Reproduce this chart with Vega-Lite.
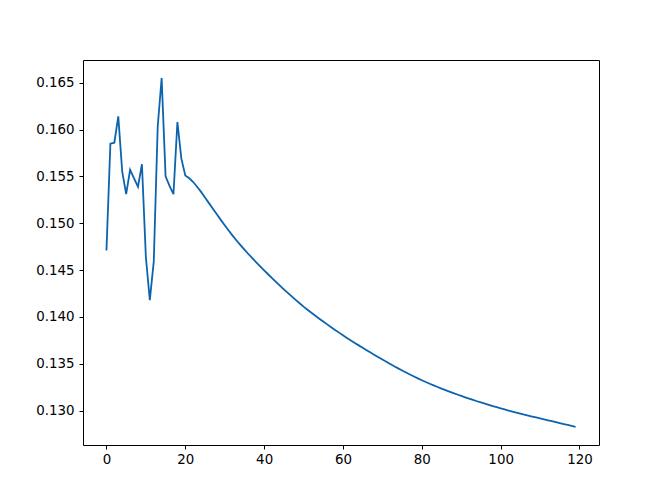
{
  "$schema": "https://vega.github.io/schema/vega-lite/v6.json",
  "width": 516,
  "height": 385,
  "autosize": "none",
  "padding": {"left": 83, "top": 60, "right": 67, "bottom": 55},
  "background": "white",
  "data": {
    "values": [
      {"step": 0, "value": 0.1471}, {"step": 1, "value": 0.1585}, {"step": 2, "value": 0.1586},
      {"step": 3, "value": 0.1614}, {"step": 4, "value": 0.1555}, {"step": 5, "value": 0.1531},
      {"step": 6, "value": 0.1557}, {"step": 7, "value": 0.1548}, {"step": 8, "value": 0.1539},
      {"step": 9, "value": 0.1563}, {"step": 10, "value": 0.1464}, {"step": 11, "value": 0.1418},
      {"step": 12, "value": 0.1459}, {"step": 13, "value": 0.1603}, {"step": 14, "value": 0.1655},
      {"step": 15, "value": 0.1550}, {"step": 16, "value": 0.1540}, {"step": 17, "value": 0.1531},
      {"step": 18, "value": 0.1608}, {"step": 19, "value": 0.1569}, {"step": 20, "value": 0.15510},
      {"step": 21, "value": 0.15480}, {"step": 22, "value": 0.15440}, {"step": 23, "value": 0.15390},
      {"step": 24, "value": 0.15335}, {"step": 25, "value": 0.15275}, {"step": 26, "value": 0.15215},
      {"step": 27, "value": 0.15155}, {"step": 28, "value": 0.15095}, {"step": 29, "value": 0.15036},
      {"step": 30, "value": 0.14978}, {"step": 31, "value": 0.14922}, {"step": 32, "value": 0.14868},
      {"step": 33, "value": 0.14816}, {"step": 34, "value": 0.14766}, {"step": 35, "value": 0.14718},
      {"step": 36, "value": 0.14672}, {"step": 37, "value": 0.14627}, {"step": 38, "value": 0.14583},
      {"step": 39, "value": 0.14540}, {"step": 40, "value": 0.14498}, {"step": 41, "value": 0.14456},
      {"step": 42, "value": 0.14415}, {"step": 43, "value": 0.14374}, {"step": 44, "value": 0.14334},
      {"step": 45, "value": 0.14295}, {"step": 46, "value": 0.14257}, {"step": 47, "value": 0.14219},
      {"step": 48, "value": 0.14182}, {"step": 49, "value": 0.14146}, {"step": 50, "value": 0.14110},
      {"step": 51, "value": 0.14077}, {"step": 52, "value": 0.14045}, {"step": 53, "value": 0.14013},
      {"step": 54, "value": 0.13982}, {"step": 55, "value": 0.13951}, {"step": 56, "value": 0.13921},
      {"step": 57, "value": 0.13891}, {"step": 58, "value": 0.13862}, {"step": 59, "value": 0.13833},
      {"step": 60, "value": 0.13805}, {"step": 61, "value": 0.13777}, {"step": 62, "value": 0.13750},
      {"step": 63, "value": 0.13723}, {"step": 64, "value": 0.13697}, {"step": 65, "value": 0.13671},
      {"step": 66, "value": 0.13645}, {"step": 67, "value": 0.13620}, {"step": 68, "value": 0.13595},
      {"step": 69, "value": 0.13570}, {"step": 70, "value": 0.13546}, {"step": 71, "value": 0.13522},
      {"step": 72, "value": 0.13498}, {"step": 73, "value": 0.13475}, {"step": 74, "value": 0.13452},
      {"step": 75, "value": 0.13429}, {"step": 76, "value": 0.13407}, {"step": 77, "value": 0.13386},
      {"step": 78, "value": 0.13365}, {"step": 79, "value": 0.13345}, {"step": 80, "value": 0.13325},
      {"step": 81, "value": 0.13306}, {"step": 82, "value": 0.13288}, {"step": 83, "value": 0.13270},
      {"step": 84, "value": 0.13253}, {"step": 85, "value": 0.13236}, {"step": 86, "value": 0.13220},
      {"step": 87, "value": 0.13204}, {"step": 88, "value": 0.13188}, {"step": 89, "value": 0.13173},
      {"step": 90, "value": 0.13158}, {"step": 91, "value": 0.13143}, {"step": 92, "value": 0.13129},
      {"step": 93, "value": 0.13115}, {"step": 94, "value": 0.13101}, {"step": 95, "value": 0.13088},
      {"step": 96, "value": 0.13075}, {"step": 97, "value": 0.13062}, {"step": 98, "value": 0.13050},
      {"step": 99, "value": 0.13038}, {"step": 100, "value": 0.13026}, {"step": 101, "value": 0.13014},
      {"step": 102, "value": 0.13002}, {"step": 103, "value": 0.12991}, {"step": 104, "value": 0.12980},
      {"step": 105, "value": 0.12969}, {"step": 106, "value": 0.12958}, {"step": 107, "value": 0.12948},
      {"step": 108, "value": 0.12938}, {"step": 109, "value": 0.12928}, {"step": 110, "value": 0.12918},
      {"step": 111, "value": 0.12908}, {"step": 112, "value": 0.12898}, {"step": 113, "value": 0.12888},
      {"step": 114, "value": 0.12878}, {"step": 115, "value": 0.12868}, {"step": 116, "value": 0.12858},
      {"step": 117, "value": 0.12848}, {"step": 118, "value": 0.12838}, {"step": 119, "value": 0.12828}
    ]
  },
  "mark": {"type": "line", "color": "#0b64ad", "strokeWidth": 1.8, "clip": true},
  "encoding": {
    "x": {
      "field": "step",
      "type": "quantitative",
      "scale": {"domain": [-5.95, 124.95], "nice": false, "zero": false},
      "axis": {
        "title": null,
        "values": [0, 20, 40, 60, 80, 100, 120],
        "format": "d",
        "grid": false,
        "domain": false,
        "tickColor": "black",
        "tickSize": 4,
        "labelPadding": 3,
        "labelFont": "DejaVu Sans",
        "labelFontSize": 13.4,
        "labelColor": "black"
      }
    },
    "y": {
      "field": "value",
      "type": "quantitative",
      "scale": {"domain": [0.12634, 0.16742], "nice": false, "zero": false},
      "axis": {
        "title": null,
        "values": [0.13, 0.135, 0.14, 0.145, 0.15, 0.155, 0.16, 0.165],
        "format": ".3f",
        "grid": false,
        "domain": false,
        "tickColor": "black",
        "tickSize": 4,
        "labelPadding": 5,
        "labelFont": "DejaVu Sans",
        "labelFontSize": 13.4,
        "labelColor": "black"
      }
    }
  },
  "config": {
    "view": {"stroke": "black", "strokeWidth": 1}
  }
}
